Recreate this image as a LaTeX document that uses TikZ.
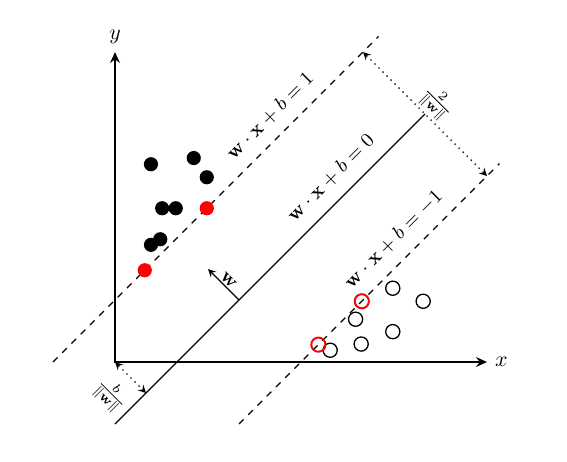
\documentclass[tikz,border=0pt]{standalone}
\usepackage{amsmath,amssymb}
\usepackage{bm}
\usetikzlibrary{arrows.meta, calc}
\begin{document}
\begin{tikzpicture}[x=1cm,y=1cm,>=stealth,font=\small]
\tikzset{
  posdot/.style={black,fill=black,draw=none,circle,minimum size=6.5pt,inner sep=0pt},
  negdot/.style={black,draw=black,circle,minimum size=6.5pt,inner sep=0pt,line width=0.6pt},
  possv/.style={posdot,fill=red},
  negsv/.style={negdot,draw=red,line width=0.9pt},
  lbl/.style={inner sep=1pt},
  axis/.style={thick,{Stealth[length=5pt,width=4.5pt]}-{Stealth[length=5pt,width=4.5pt]}}
}
\useasboundingbox (-1.855,-1.597) rectangle (7.29,5.839);
% axes
\draw[axis] (0,5) node[above,font=\normalsize] (yaxis) {$y$}
  |- (6,0) node[right,font=\normalsize] (xaxis) {$x$};
% hyperplane and margins
\coordinate (o) at (0,0);
\draw[semithick] (0,-1) -- (5,4);
\draw[dashed,semithick] (-1,0) -- (4.25,5.25);
\draw[dashed,semithick] (2,-1) -- (6.2,3.2);
% line labels
\node[lbl,rotate=45] (lplus) at (2.50,3.97) {$\mathbf{w}\cdot\mathbf{x}+b=1$};
\node[lbl,rotate=45] (lzero) at (3.48,2.97) {$\mathbf{w}\cdot\mathbf{x}+b=0$};
\node[lbl,rotate=45] (lminus) at (4.49,1.98) {$\mathbf{w}\cdot\mathbf{x}+b=-1$};
% normal vector
\coordinate (wfoot) at (2,1);
\coordinate (wtip) at (1.5,1.5);
\draw[->,semithick] (wfoot) -- (wtip);
\node[lbl,rotate=-45] (wlbl) at (1.83,1.32) {$\mathbf{w}$};
% margin width
\coordinate (mtop) at (4,5);
\coordinate (mbot) at (6,3);
\draw[<->,dotted,semithick] (mtop) -- (mbot);
\node[lbl,rotate=-45] (mlbl) at (5.19,4.18) {$\frac{2}{\|\mathbf{w}\|}$};
% offset
\coordinate (bfoot) at (0.5,-0.5);
\draw[<->,dotted,semithick] (o) -- (bfoot);
\node[lbl,rotate=-45] (blbl) at (-0.07,-0.53) {$\frac{b}{\|\mathbf{w}\|}$};
% positive class
\foreach \px/\py [count=\k] in {0.58/3.19,1.27/3.29,1.48/2.98,0.76/2.48,0.98/2.48,0.73/1.98,0.58/1.89}{
  \node[posdot] (pos\k) at (\px,\py) {};
}
\node[possv] (possv1) at (1.48,2.48) {};
\node[possv] (possv2) at (0.48,1.48) {};
% negative class
\foreach \px/\py [count=\k] in {4.48/1.19,4.97/0.98,3.88/0.69,4.48/0.49,3.97/0.29,3.47/0.19}{
  \node[negdot] (neg\k) at (\px,\py) {};
}
\node[negsv] (negsv1) at (3.98,0.98) {};
\node[negsv] (negsv2) at (3.28,0.28) {};
\end{tikzpicture}
\end{document}
